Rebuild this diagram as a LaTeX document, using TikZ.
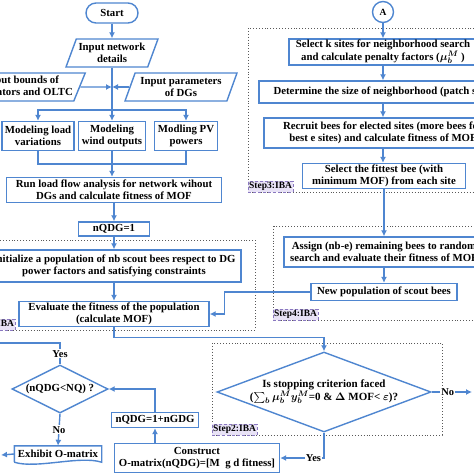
\documentclass[tikz,border=0pt]{standalone}
\usepackage{fontspec}
\setmainfont{Liberation Serif}
\usepackage{amsmath}
\usetikzlibrary{shapes.geometric,calc,arrows.meta}
\definecolor{fblue}{HTML}{4F86D0}
\definecolor{tagfill}{HTML}{E8E2F6}
\definecolor{tagline}{HTML}{8A78C0}

\tikzset{
  proc/.style={draw=fblue, line width=1.4pt, fill=white, align=center,
    font=\fontsize{10.8}{12.5}\selectfont\bfseries, inner sep=1pt},
  io/.style={proc, trapezium, trapezium left angle=65, trapezium right angle=115,
    trapezium stretches body},
  term/.style={proc, rounded corners=10pt},
  dec/.style={proc, diamond, inner sep=0pt},
  flow/.style={draw=fblue, line width=1.4pt},
  stepbox/.style={draw=black!65, dotted, line width=0.9pt},
  steptag/.style={draw=tagline, densely dashed, fill=tagfill,
    font=\fontsize{9.5}{10}\selectfont\bfseries, inner sep=1pt},
  lbl/.style={fill=white, font=\fontsize{10.5}{11}\selectfont\bfseries, inner sep=1pt}
}

\begin{document}
\begin{tikzpicture}[x=1pt, y=-1pt, >={Latex[length=6pt,width=6pt]}]

  \useasboundingbox (0,0) rectangle (474,474);
  \clip (0,0) rectangle (474,474);

  % dotted step frames
  \draw[stepbox] (-30,240) rectangle (255,330);
  \draw[stepbox] (248,28) rectangle (490,192);
  \draw[stepbox] (273,226) rectangle (490,320);
  \draw[stepbox] (212,343) rectangle (442,435);
  \node[steptag, anchor=south west] (tag1) at (-30,330) {Step1:IBA};
  \node[steptag, anchor=south west] (tag3) at (248,192) {Step3:IBA};
  \node[steptag, anchor=south west] (tag4) at (273,320) {Step4:IBA};
  \node[steptag, anchor=south west] (tag2) at (212,435) {Step2:IBA};

  % left column
  \node[term, minimum width=52, minimum height=20] (start) at (112,13) {Start};
  \node[io, minimum width=92, minimum height=28] (net) at (112,53) {Input network\\details};
  \node[io, minimum width=120, minimum height=28] (bnd) at (22,87) {Input bounds of\\generators and OLTC};
  \node[io, minimum width=112, minimum height=28] (par) at (181,87) {Input parameters\\of DGs};
  \node[proc, minimum width=72, minimum height=29] (load) at (38,136) {Modeling load\\variations};
  \node[proc, minimum width=67, minimum height=29] (wind) at (112,136) {Modeling\\wind outputs};
  \node[proc, minimum width=63, minimum height=29] (pv) at (186,136) {Modling PV\\powers};
  \node[proc, minimum width=215, minimum height=25] (lf) at (114,190) {Run load flow analysis for network wihout\\DGs and calculate fitness of MOF};
  \node[proc, minimum width=71, minimum height=14] (n1) at (114,229) {nQDG=1};
  \node[proc, minimum width=254, minimum height=32] (init) at (114,266) {Initialize a population of nb scout bees respect to DG\\power factors and satisfying constraints};
  \node[proc, minimum width=190, minimum height=25] (eval) at (114,314) {Evaluate the fitness of the population\\(calculate MOF)};
  \node[dec, aspect=2, minimum width=96, minimum height=48] (lt) at (60,389) {(nQDG<NQ) ?};
  \node[proc, minimum width=87, minimum height=15] (inc) at (155,420) {nQDG=1+nGDG};
  \node[proc, minimum width=165, minimum height=29] (cons) at (197,458) {Construct\\O-matrix(nQDG)=[M\ \ g d fitness]};
  \node[font=\fontsize{10.8}{12}\selectfont\bfseries, minimum width=87, minimum height=16, inner sep=1pt] (ex) at (58,454) {Exhibit O-matrix};
  \draw[flow] (ex.south west) -- (ex.north west) -- (ex.north east) -- (ex.south east)
    .. controls +(-22,-7) and +(22,7) .. (ex.south west);

  % right column
  \node[proc, circle, minimum size=21, font=\fontsize{9.5}{9.5}\selectfont\bfseries] (A) at (383,12) {A};
  \node[proc, minimum width=188, minimum height=26] (sel) at (383,52) {Select k sites for neighborhood search\\and calculate penalty factors ($\boldsymbol{\mu_b^M}$ )};
  \node[proc, minimum width=248, minimum height=22] (size) at (383,92) {Determine the size of neighborhood (patch size)};
  \node[proc, minimum width=238, minimum height=30] (rec) at (383,133) {Recruit bees for elected sites (more bees for\\best e sites) and calculate fitness of MOF};
  \node[proc, minimum width=163, minimum height=25] (fit) at (384,176) {Select the fittest bee (with\\minimum MOF) from each site};
  \node[proc, minimum width=200, minimum height=30] (asg) at (384,252) {Assign (nb-e) remaining bees to random\\search and evaluate their fitness of MOF};
  \node[proc, minimum width=146, minimum height=17] (newp) at (384,292) {New population of scout bees};
  \node[dec, aspect=2.7, minimum width=214, minimum height=80,
    font=\fontsize{11}{12.5}\selectfont\bfseries\boldmath] (stop) at (324,392)
    {Is stopping criterion faced\\($\sum_b\mu_b^M y_b^M$=0 \& $\Delta$ MOF< $\varepsilon$)?};

  % free ends
  \coordinate (mid) at (112,87);
  \coordinate (split) at (112,110);
  \coordinate (join) at (112,164);
  \coordinate (back) at (-5,343);
  \coordinate (exout) at (1,455);
  \coordinate (stopout) at (472,392);

  % connectors
  \draw[flow,->] (start) -- (net);
  \draw[flow] (net) -- (split);
  \draw[flow,->] (bnd) -- (mid);
  \draw[flow,->] (par) -- (mid);
  \draw[flow,->] (split) -| (load);
  \draw[flow,->] (split) -- (wind);
  \draw[flow,->] (split) -| (pv);
  \draw[flow] (load) |- (join);
  \draw[flow] (pv) |- (join);
  \draw[flow] (wind) -- (join);
  \draw[flow,->] (join) -- (join |- lf.north);
  \draw[flow,->] (lf) -- (n1);
  \draw[flow,->] (n1) -- (init);
  \draw[flow,->] (init) -- (eval);
  \draw[flow,->] (eval.south) -- ++(0,10) -| (stop.north);
  \draw[flow] (lt.north) -- node[lbl]{Yes} (lt.north |- back) -- (back);
  \draw[flow,->] (lt.south) -- node[lbl]{No} (ex.north);
  \draw[flow,->] (ex.west) -- (exout);
  \draw[flow,->] (inc.north) |- (lt.east);
  \draw[flow,->] (inc |- cons.north) -- (inc.south);
  \draw[flow,->] (stop.south) |- node[lbl, pos=0.62]{Yes} (cons.east);
  \draw[flow,->] (stop.east) -- node[lbl, pos=0.4]{No} (stopout);

  \draw[flow,->] (A) -- (sel);
  \draw[flow,->] (sel) -- (size);
  \draw[flow,->] (size) -- (rec);
  \draw[flow,->] (rec) -- (rec |- fit.north);
  \draw[flow,->] (fit) -- (asg);
  \draw[flow,->] (asg) -- (newp);
  \draw[flow,->] (newp.west) -- ++(-86,0) |- (eval.east);

\end{tikzpicture}
\end{document}
